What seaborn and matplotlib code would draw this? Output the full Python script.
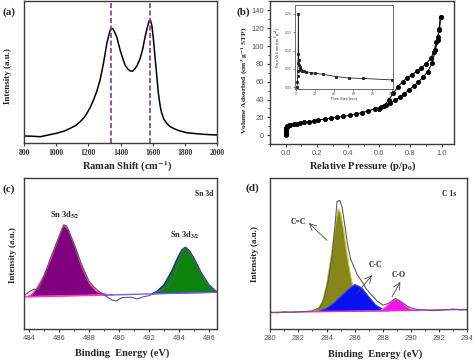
import numpy as np
import seaborn as sns
import matplotlib.pyplot as plt
from matplotlib.ticker import MultipleLocator

# ---- data ----
# (a) Raman spectrum
raman_shift = [800, 850, 900, 950, 1000, 1050, 1086, 1120, 1148, 1170, 1190, 1210, 1231, 1252, 1272,
               1293, 1314, 1327, 1335, 1343, 1351, 1362, 1376, 1397, 1415, 1428, 1445, 1459, 1475, 1490,
               1505, 1521, 1537, 1552, 1566, 1579, 1587, 1594, 1604, 1614, 1625, 1635, 1646, 1656, 1670,
               1687, 1705, 1728, 1760, 1811, 1860, 1915, 1960, 2000]
raman_int = [7.0, 6.8, 6.3, 8.0, 9.7, 12.0, 14.7, 17.5, 21.3, 25.0, 29.7, 35.5, 43.0, 52.0, 63.0,
             79.7, 99.7, 108.5, 113.0, 115.0, 114.7, 111.5, 106.3, 93.0, 84.0, 78.0, 74.0, 72.3, 72.0, 74.7,
             78.5, 84.7, 94.0, 106.3, 116.0, 123.0, 122.5, 118.0, 104.0, 86.3, 67.0, 49.7, 37.0, 29.7, 23.5,
             19.7, 16.8, 14.7, 12.5, 10.3, 9.5, 8.7, 8.3, 8.0]
raman_marks = [1340, 1580]

# (b) N2 isotherm
ads_p = [0.001, 0.001, 0.002, 0.002, 0.003, 0.004, 0.006, 0.01, 0.02, 0.03, 0.05, 0.07, 0.09, 0.12,
         0.15, 0.18, 0.21, 0.25, 0.29, 0.33, 0.37, 0.41, 0.45, 0.49, 0.53, 0.57, 0.61, 0.64, 0.67,
         0.70, 0.73, 0.76, 0.79, 0.82, 0.85, 0.88, 0.91, 0.94, 0.96, 0.975, 0.985, 0.993]
ads_v = [0.0, 2.0, 4.0, 6.0, 7.5, 8.5, 9.5, 10.5, 11.0, 11.8, 12.4, 13.0, 13.7, 14.4,
         15.2, 16.0, 17.0, 18.0, 19.0, 20.0, 21.0, 22.3, 23.7, 25.3, 27.2, 29.5, 31.5, 33.5,
         36.0, 39.0, 42.5, 46.5, 50.5, 55.0, 59.5, 65.0, 71.0, 81.0, 96.0, 107.0, 118.0, 133.0]
des_p = [0.993, 0.985, 0.975, 0.965, 0.95, 0.93, 0.90, 0.87, 0.84, 0.81, 0.78, 0.75, 0.72,
         0.69, 0.66, 0.63, 0.60]
des_v = [133.0, 119.0, 110.0, 104.0, 93.0, 86.0, 80.0, 75.5, 71.5, 68.0, 64.5, 60.0, 54.5,
         47.0, 39.5, 33.0, 29.0]
pore_size = [1.0, 1.2, 1.4, 1.6, 1.8, 2.0, 2.2, 2.6, 3.0, 3.5, 4.2, 5.0, 6.0, 8.0, 10.0, 15.0,
             20.0, 28.0, 42.0, 55.0, 70.0, 100.0]
pore_vol = [0.0, 0.015, 0.03, 0.045, 0.065, 0.09, 0.20, 0.075, 0.060, 0.055, 0.050, 0.047, 0.045,
            0.043, 0.042, 0.040, 0.038, 0.035, 0.029, 0.025, 0.024, 0.020]

# (c) Sn 3d
sn_raw_e = [483.65, 484.0, 484.3, 484.6, 485.0, 485.5, 486.0, 486.3, 486.5, 487.0, 487.5, 488.0, 488.3,
            488.7, 489.0, 489.5, 489.8, 490.2, 490.8, 491.2, 491.6, 492.0, 492.5, 492.9, 493.3, 493.7,
            494.0, 494.3, 494.5, 495.0, 495.5, 496.0, 496.55]
sn_raw_i = [33.3, 37.3, 39.7, 39.0, 54.0, 74.0, 92.3, 104.0, 102.3, 84.0, 64.0, 47.3, 42.3,
            36.7, 34.0, 29.0, 28.0, 31.3, 31.7, 30.0, 32.0, 33.3, 36.7, 39.7, 42.3, 52.3,
            67.3, 80.0, 81.3, 70.0, 54.7, 43.3, 36.7]
sn52_e = [483.9, 484.2, 484.5, 485.0, 485.5, 485.9, 486.2, 486.35, 486.6, 487.0, 487.5, 488.0, 488.5, 489.2]
sn52_i = [32.4, 35.0, 40.7, 54.0, 72.3, 89.0, 100.7, 103.3, 99.0, 84.0, 62.3, 45.7, 37.3, 34.2]
sn32_e = [492.2, 492.5, 493.0, 493.5, 493.9, 494.2, 494.4, 494.7, 495.0, 495.5, 496.0, 496.5, 496.55]
sn32_i = [35.3, 37.3, 44.0, 57.3, 70.7, 79.0, 81.3, 78.0, 70.7, 55.7, 44.0, 37.3, 36.7]
sn_base1_e, sn_base1_i = [483.65, 489.6], [32.0, 34.0]
sn_base2_e, sn_base2_i = [489.0, 496.55], [33.8, 36.7]

# (d) C 1s
c_raw_e = [280.0, 280.5, 281.0, 281.5, 282.0, 282.5, 283.0, 283.5, 283.8, 284.1, 284.4, 284.6, 284.75,
           284.95, 285.1, 285.3, 285.5, 285.7, 285.9, 286.2, 286.5, 286.8, 287.2, 287.6, 288.0,
           288.4, 288.9, 289.4, 289.8, 290.3, 290.7, 291.0, 291.5, 292.0, 292.5, 293.0, 293.5, 294.0]
c_raw_i = [16.7, 16.3, 17.2, 16.8, 17.3, 17.6, 18.3, 21.3, 29.0, 47.3, 74.0, 104.0, 128.0,
           129.0, 122.3, 104.0, 84.0, 70.7, 64.0, 54.0, 48.0, 40.7, 34.0, 28.0, 24.0,
           25.7, 30.7, 26.3, 22.3, 20.0, 19.3, 19.0, 18.5, 18.7, 19.4, 20.0, 19.2, 19.3]
cc_db_e = [283.0, 283.4, 283.7, 284.0, 284.3, 284.5, 284.7, 284.85, 285.0, 285.2, 285.4, 285.6, 285.8,
           286.1, 286.5, 287.0]
cc_db_i = [17.8, 20.7, 27.3, 44.0, 70.7, 90.7, 110.7, 120.7, 115.7, 100.7, 80.7, 62.3, 47.3,
           32.3, 22.3, 18.7]
cc_sg_e = [283.5, 284.0, 284.5, 285.0, 285.5, 286.0, 286.5, 287.0, 287.5, 288.0, 288.5]
cc_sg_i = [18.0, 20.7, 25.7, 32.3, 39.0, 44.7, 41.3, 32.3, 24.0, 19.7, 18.2]
co_e = [287.8, 288.2, 288.5, 288.9, 289.3, 289.7, 290.1, 290.5]
co_i = [18.3, 22.3, 26.3, 30.0, 27.3, 22.3, 19.0, 18.4]
c_base_e, c_base_i = [280.0, 294.0], [16.7, 19.7]

# ---- style ----
sns.set_theme(style="ticks")
plt.rcParams["font.family"] = ["Liberation Sans", "DejaVu Sans"]
plt.rcParams["mathtext.fontset"] = "stix"
plt.rcParams["mathtext.default"] = "bf"
plt.rcParams["axes.edgecolor"] = "#3c3c3c"
plt.rcParams["axes.linewidth"] = 1.0
plt.rcParams["xtick.color"] = "#3c3c3c"
plt.rcParams["ytick.color"] = "#3c3c3c"

serif_b = dict(family="Liberation Serif", weight="bold")
tick_col = "#555555"

fig = plt.figure(figsize=(4.74, 3.62), dpi=100)
ax_a = fig.add_axes([0.051, 0.605, 0.407, 0.391])
ax_b = fig.add_axes([0.570, 0.602, 0.388, 0.394])
ax_in = fig.add_axes([0.622, 0.754, 0.207, 0.232])
ax_c = fig.add_axes([0.051, 0.091, 0.407, 0.416])
ax_d = fig.add_axes([0.570, 0.091, 0.416, 0.416])


def frame(ax):
    for s in ax.spines.values():
        s.set_visible(True)
        s.set_color("#3c3c3c")


# (a) Raman
sns.lineplot(x=raman_shift, y=raman_int, ax=ax_a, color="black", lw=1.1, estimator=None)
for m in raman_marks:
    ax_a.axvline(m, color="#7a3ca8", lw=1.2, ls=(0, (3, 1.5)))
ax_a.set_xlim(800, 2000)
ax_a.set_ylim(0, 142)
ax_a.set_yticks([])
ax_a.set_xticks(range(800, 2001, 200))
ax_a.tick_params(axis="x", labelsize=5.5, length=2.5, width=0.8, pad=2, labelcolor="#333333")
for t in ax_a.get_xticklabels():
    t.set_fontfamily("Liberation Serif")
    t.set_fontweight("bold")
ax_a.set_xlabel("Raman Shift (cm$^{-1}$)", fontsize=7.5, **serif_b)
ax_a.set_ylabel("Intensity (a.u.)", fontsize=6.5, **serif_b)
ax_a.xaxis.set_label_coords(0.536, -0.115)
ax_a.yaxis.set_label_coords(-0.062, 0.47)
frame(ax_a)

# (b) isotherm
sns.lineplot(x=ads_p, y=ads_v, ax=ax_b, sort=False, estimator=None, color="black", lw=0.8,
             marker="o", markersize=2.8, markeredgecolor="black")
sns.lineplot(x=des_p, y=des_v, ax=ax_b, sort=False, estimator=None, color="black", lw=0.8,
             marker="o", markersize=2.8, markeredgecolor="black")
ax_b.set_xlim(-0.1, 1.08)
ax_b.set_ylim(-10, 150)
ax_b.set_xticks(np.arange(0, 1.01, 0.2))
ax_b.set_xticklabels(["0.0", "0.2", "0.4", "0.6", "0.8", "1.0"])
ax_b.set_yticks(range(0, 141, 20))
ax_b.xaxis.set_minor_locator(MultipleLocator(0.1))
ax_b.yaxis.set_minor_locator(MultipleLocator(10))
ax_b.tick_params(which="major", labelsize=5.5, length=2.5, width=0.8, pad=2, labelcolor=tick_col)
ax_b.tick_params(which="minor", length=1.5, width=0.6)
ax_b.set_xlabel("Relative Pressure (p/p$_0$)", fontsize=7.5, **serif_b)
ax_b.set_ylabel("Volume Adsorbed (cm$^3$ g$^{-1}$ STP)", fontsize=5.4, **serif_b)
ax_b.xaxis.set_label_coords(0.5, -0.108)
ax_b.yaxis.set_label_coords(-0.109, 0.448)
frame(ax_b)

# inset pore size distribution
sns.lineplot(x=pore_size, y=pore_vol, ax=ax_in, sort=False, estimator=None, color="#222222",
             lw=0.6, marker="s", markersize=1.3, markeredgecolor="#222222")
ax_in.set_xlim(-1.5, 101.5)
ax_in.set_ylim(-0.005, 0.224)
ax_in.set_xticks(range(0, 101, 20))
ax_in.set_yticks([0.0, 0.05, 0.10, 0.15, 0.20])
ax_in.set_yticklabels(["0.00", "0.05", "0.10", "0.15", "0.20"])
ax_in.tick_params(labelsize=2.6, length=1.2, width=0.4, pad=0.8, labelcolor=tick_col)
ax_in.set_xlabel("Pore Size (nm)", fontsize=2.8, labelpad=0.8, color="#333333")
ax_in.set_ylabel("Pore Volume (cm$^3$ g$^{-1}$)", fontsize=2.8, labelpad=0.8, color="#333333")
for s in ax_in.spines.values():
    s.set_color("#555555")
    s.set_linewidth(0.6)

# (c) Sn 3d
ax_c.fill(sn52_e, sn52_i, facecolor="#800080", edgecolor="#ff3fa0", lw=1.0)
ax_c.fill(sn32_e, sn32_i, facecolor="#0b840b", edgecolor="#1c2f80", lw=1.0)
sns.lineplot(x=sn_base1_e, y=sn_base1_i, ax=ax_c, color="#ff33cc", lw=1.0, estimator=None)
sns.lineplot(x=sn_base2_e, y=sn_base2_i, ax=ax_c, color="#7a5cff", lw=1.0, estimator=None)
sns.lineplot(x=sn_raw_e, y=sn_raw_i, ax=ax_c, color="#5a5a70", lw=0.8, estimator=None)
ax_c.set_xlim(483.65, 496.55)
ax_c.set_ylim(0, 150)
ax_c.set_yticks([])
ax_c.set_xticks(range(484, 497, 2))
ax_c.xaxis.set_minor_locator(MultipleLocator(1))
ax_c.tick_params(which="major", labelsize=5.5, length=2.5, width=0.8, pad=2, labelcolor=tick_col)
ax_c.tick_params(which="minor", length=1.5, width=0.6)
ax_c.text(486.35, 108, "Sn 3d$_{5/2}$", fontsize=6, ha="center", va="bottom", **serif_b)
ax_c.text(494.4, 88, "Sn 3d$_{3/2}$", fontsize=6, ha="center", va="bottom", **serif_b)
ax_c.text(495.7, 135, "Sn 3d", fontsize=5.5, ha="center", va="center", **serif_b)
ax_c.set_xlabel("Binding  Energy (eV)", fontsize=7.5, **serif_b)
ax_c.set_ylabel("Intensity (a.u.)", fontsize=6.5, **serif_b)
ax_c.xaxis.set_label_coords(0.508, -0.126)
ax_c.yaxis.set_label_coords(-0.036, 0.49)
frame(ax_c)

# (d) C 1s
ax_d.fill(cc_db_e, cc_db_i, facecolor="#86861a", edgecolor="#c9c93a", lw=0.8)
ax_d.fill(cc_sg_e, cc_sg_i, facecolor="#0a10f0", edgecolor="#2a3cff", lw=0.8)
ax_d.fill(co_e, co_i, facecolor="#ff10f0", edgecolor="#ff70e0", lw=0.8)
sns.lineplot(x=c_base_e, y=c_base_i, ax=ax_d, color="#e030d8", lw=1.0, estimator=None)
sns.lineplot(x=c_raw_e, y=c_raw_i, ax=ax_d, color="#5e5e5e", lw=0.8, estimator=None)
ax_d.set_xlim(280, 294)
ax_d.set_ylim(0, 151)
ax_d.set_yticks([])
ax_d.set_xticks(range(280, 295, 2))
ax_d.xaxis.set_minor_locator(MultipleLocator(1))
ax_d.tick_params(which="major", labelsize=5.5, length=2.5, width=0.8, pad=2, labelcolor=tick_col)
ax_d.tick_params(which="minor", length=1.5, width=0.6)
arrow = dict(arrowstyle="->", color="#444444", lw=0.6, shrinkA=0, shrinkB=0)
ax_d.annotate("", xy=(282.75, 106.3), xytext=(284.03, 89), arrowprops=arrow)
ax_d.annotate("", xy=(287.23, 54), xytext=(286.16, 35.7), arrowprops=arrow)
ax_d.annotate("", xy=(289.24, 47.3), xytext=(288.65, 32.3), arrowprops=arrow)
ax_d.text(282.0, 107.3, "C=C", fontsize=5.5, ha="center", va="center", **serif_b)
ax_d.text(287.45, 64, "C-C", fontsize=5.5, ha="center", va="center", **serif_b)
ax_d.text(289.15, 54, "C-O", fontsize=5.5, ha="center", va="center", **serif_b)
ax_d.text(292.7, 135.7, "C 1s", fontsize=5.5, ha="center", va="center", **serif_b)
ax_d.set_xlabel("Binding  Energy (eV)", fontsize=7.5, **serif_b)
ax_d.set_ylabel("Intensity (a.u.)", fontsize=6.5, **serif_b)
ax_d.xaxis.set_label_coords(0.533, -0.133)
ax_d.yaxis.set_label_coords(-0.056, 0.5)
frame(ax_d)

# panel letters
for lbl, x, y in [("(a)", 0.019, 0.967), ("(b)", 0.513, 0.967),
                  ("(c)", 0.019, 0.478), ("(d)", 0.532, 0.481)]:
    fig.text(x, y, lbl, fontsize=8, ha="center", va="center", **serif_b)

fig.savefig("out.png", dpi=100)
